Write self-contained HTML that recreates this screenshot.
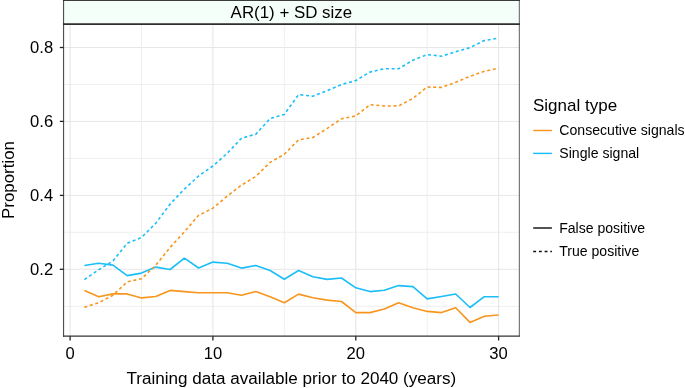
<!DOCTYPE html>
<html><head><meta charset="utf-8"><title>AR(1) + SD size</title>
<style>
html,body{margin:0;padding:0;background:#fff;}
svg{display:block;font-family:"Liberation Sans",Arial,Helvetica,sans-serif;fill:#000;}
</style></head><body>
<svg width="685" height="388" viewBox="0 0 685 388">
<rect x="0" y="0" width="685" height="388" fill="#ffffff"/>
<g id="grid">
<line x1="63.55" x2="519.35" y1="306.3" y2="306.3" stroke="#ededed" stroke-width="0.9"/>
<line x1="63.55" x2="519.35" y1="232.3" y2="232.3" stroke="#ededed" stroke-width="0.9"/>
<line x1="63.55" x2="519.35" y1="158.4" y2="158.4" stroke="#ededed" stroke-width="0.9"/>
<line x1="63.55" x2="519.35" y1="84.5" y2="84.5" stroke="#ededed" stroke-width="0.9"/>
<line x1="63.55" x2="519.35" y1="269.3" y2="269.3" stroke="#e6e6e6" stroke-width="1"/>
<line x1="63.55" x2="519.35" y1="195.4" y2="195.4" stroke="#e6e6e6" stroke-width="1"/>
<line x1="63.55" x2="519.35" y1="121.4" y2="121.4" stroke="#e6e6e6" stroke-width="1"/>
<line x1="63.55" x2="519.35" y1="47.5" y2="47.5" stroke="#e6e6e6" stroke-width="1"/>
<line y1="24.0" y2="336.2" x1="70.1" x2="70.1" stroke="#e6e6e6" stroke-width="1.1"/>
<line y1="24.0" y2="336.2" x1="141.5" x2="141.5" stroke="#ededed" stroke-width="0.9"/>
<line y1="24.0" y2="336.2" x1="212.9" x2="212.9" stroke="#e6e6e6" stroke-width="1.1"/>
<line y1="24.0" y2="336.2" x1="284.3" x2="284.3" stroke="#ededed" stroke-width="0.9"/>
<line y1="24.0" y2="336.2" x1="355.8" x2="355.8" stroke="#e6e6e6" stroke-width="1.1"/>
<line y1="24.0" y2="336.2" x1="427.2" x2="427.2" stroke="#ededed" stroke-width="0.9"/>
<line y1="24.0" y2="336.2" x1="498.6" x2="498.6" stroke="#e6e6e6" stroke-width="1.1"/>
</g>
<g id="series" fill="none" stroke-linejoin="round">
<polyline points="84.4,290.6 98.7,296.7 112.9,293.9 127.2,293.9 141.5,297.9 155.8,296.5 170.1,290.4 184.4,291.6 198.6,292.7 212.9,292.7 227.2,292.7 241.5,295.3 255.8,291.6 270.1,296.7 284.3,302.7 298.6,294.1 312.9,297.7 327.2,300.1 341.5,301.5 355.8,312.6 370.0,312.6 384.3,309.0 398.6,302.7 412.9,307.7 427.2,311.4 441.5,312.6 455.7,307.7 470.0,322.4 484.3,316.2 498.6,315.0" stroke="#F8951D" stroke-width="1.6"/>
<polyline points="84.4,265.5 98.7,263.3 112.9,265.1 127.2,275.6 141.5,273.1 155.8,267.1 170.1,269.5 184.4,258.2 198.6,268.0 212.9,262.1 227.2,263.3 241.5,268.1 255.8,265.5 270.1,270.5 284.3,279.2 298.6,270.5 312.9,276.8 327.2,279.4 341.5,278.0 355.8,287.8 370.0,291.6 384.3,290.2 398.6,285.6 412.9,286.6 427.2,298.9 441.5,296.5 455.7,294.0 470.0,307.5 484.3,296.7 498.6,296.7" stroke="#1ABEF9" stroke-width="1.6"/>
<polyline points="84.4,307.3 98.7,302.7 112.9,295.3 127.2,281.8 141.5,278.8 155.8,265.2 170.1,247.4 184.4,231.8 198.6,215.3 212.9,208.2 227.2,196.1 241.5,185.1 255.8,176.5 270.1,162.4 284.3,154.3 298.6,139.8 312.9,137.5 327.2,128.4 341.5,118.8 355.8,115.9 370.0,104.7 384.3,106.0 398.6,105.9 412.9,98.4 427.2,87.0 441.5,87.4 455.7,82.3 470.0,76.3 484.3,71.3 498.6,68.2" stroke="#F8951D" stroke-width="1.6" stroke-dasharray="3 2.7"/>
<polyline points="84.4,279.6 98.7,269.8 112.9,261.0 127.2,243.3 141.5,237.5 155.8,223.2 170.1,204.1 184.4,189.1 198.6,176.0 212.9,166.0 227.2,153.3 241.5,138.2 255.8,134.2 270.1,118.6 284.3,114.4 298.6,94.6 312.9,96.2 327.2,90.6 341.5,84.5 355.8,80.5 370.0,72.1 384.3,68.7 398.6,68.8 412.9,60.2 427.2,54.6 441.5,56.2 455.7,51.7 470.0,47.7 484.3,40.5 498.6,38.1" stroke="#1ABEF9" stroke-width="1.6" stroke-dasharray="3 2.7"/>
</g>
<g id="strip">
<rect x="63.55" y="0" width="455.8" height="24.0" fill="#F5FFFA"/>
<text x="291.4" y="17.8" text-anchor="middle" font-size="16.9">AR(1) + SD size</text>
</g>
<g id="panel-border" fill="none">
<line x1="519.35" x2="519.35" y1="0" y2="336.2" stroke="#6c6c6c" stroke-width="1.1"/>
<line x1="63.55" x2="63.55" y1="0" y2="336.8" stroke="#505050" stroke-width="1.15"/>
<line x1="63.0" x2="519.9" y1="0.4" y2="0.4" stroke="#262626" stroke-width="1.0"/>
<line x1="63.0" x2="519.9" y1="24.05" y2="24.05" stroke="#2e2e2e" stroke-width="1.75"/>
<line x1="63.0" x2="519.9" y1="336.2" y2="336.2" stroke="#333" stroke-width="1.2"/>
</g>
<g id="axes">
<line x1="59.8" x2="63.55" y1="269.3" y2="269.3" stroke="#222" stroke-width="1.3"/>
<text x="53.2" y="275.2" text-anchor="end" font-size="16.6">0.2</text>
<line x1="59.8" x2="63.55" y1="195.4" y2="195.4" stroke="#222" stroke-width="1.3"/>
<text x="53.2" y="201.3" text-anchor="end" font-size="16.6">0.4</text>
<line x1="59.8" x2="63.55" y1="121.4" y2="121.4" stroke="#222" stroke-width="1.3"/>
<text x="53.2" y="127.3" text-anchor="end" font-size="16.6">0.6</text>
<line x1="59.8" x2="63.55" y1="47.5" y2="47.5" stroke="#222" stroke-width="1.3"/>
<text x="53.2" y="53.4" text-anchor="end" font-size="16.6">0.8</text>
<line y1="336.2" y2="340.5" x1="70.1" x2="70.1" stroke="#222" stroke-width="1.3"/>
<text y="358.8" x="70.1" text-anchor="middle" font-size="16.6">0</text>
<line y1="336.2" y2="340.5" x1="212.9" x2="212.9" stroke="#222" stroke-width="1.3"/>
<text y="358.8" x="212.9" text-anchor="middle" font-size="16.6">10</text>
<line y1="336.2" y2="340.5" x1="355.8" x2="355.8" stroke="#222" stroke-width="1.3"/>
<text y="358.8" x="355.8" text-anchor="middle" font-size="16.6">20</text>
<line y1="336.2" y2="340.5" x1="498.6" x2="498.6" stroke="#222" stroke-width="1.3"/>
<text y="358.8" x="498.6" text-anchor="middle" font-size="16.6">30</text>
<text x="291.4" y="384.1" text-anchor="middle" font-size="17.08">Training data available prior to 2040 (years)</text>
<text transform="translate(14.2,180) rotate(-90)" text-anchor="middle" font-size="16.9">Proportion</text>
</g>
<g id="legend">
<text x="533.0" y="111.0" font-size="17">Signal type</text>
<line x1="533.2" x2="551.9" y1="130.5" y2="130.5" stroke="#F8951D" stroke-width="1.45"/>
<text x="559.3" y="135.4" font-size="14.1">Consecutive signals</text>
<line x1="533.2" x2="551.9" y1="153.4" y2="153.4" stroke="#1ABEF9" stroke-width="1.45"/>
<text x="559.3" y="158.3" font-size="14.1">Single signal</text>
<line x1="533.2" x2="551.9" y1="228.0" y2="228.0" stroke="#111" stroke-width="1.45"/>
<text x="559.2" y="233.1" font-size="14.05">False positive</text>
<line x1="533.2" x2="551.9" y1="251.5" y2="251.5" stroke="#111" stroke-width="1.45" stroke-dasharray="2.9 2.8"/>
<text x="559.3" y="255.8" font-size="14.05">True positive</text>
</g>
</svg>
</body></html>
